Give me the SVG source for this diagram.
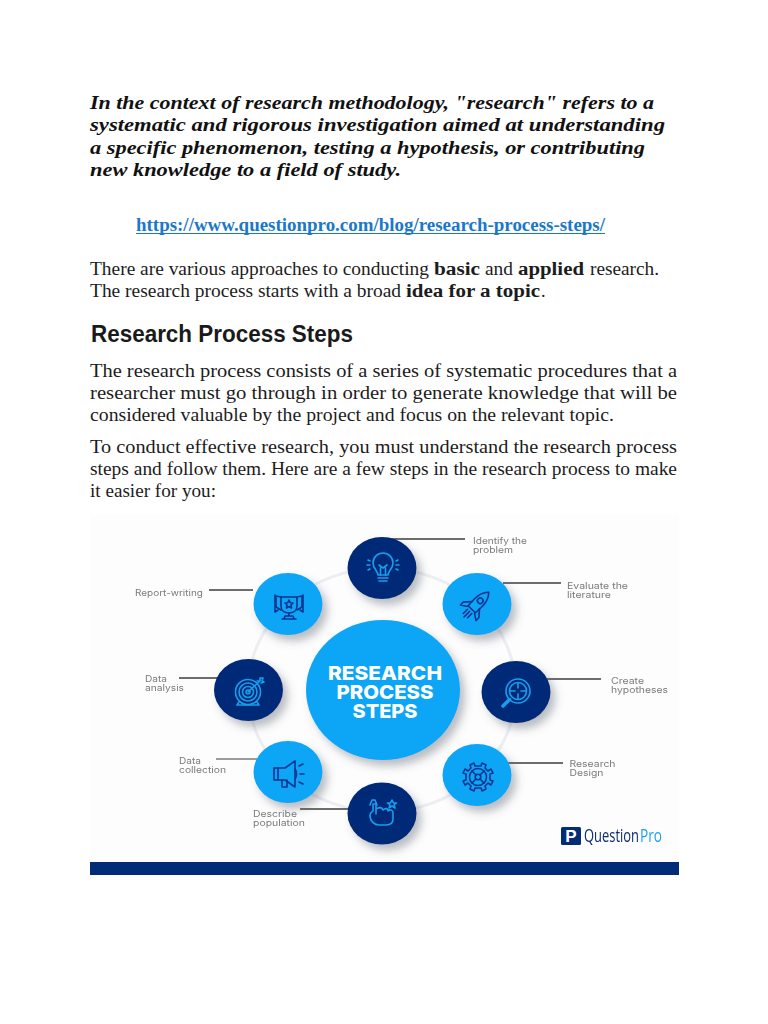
<svg xmlns="http://www.w3.org/2000/svg" width="768" height="1024" viewBox="0 0 768 1024">
<style>
text{font-family:"Liberation Serif","Times New Roman",serif;fill:#1c1c1c;font-size:18px}
.b{font-weight:700}
.i{font-weight:700;font-style:italic;fill:#111;font-size:19px}
.lnk{font-weight:700;fill:#1b78c9;font-size:18px}
.h{font-family:"Liberation Sans",Arial,sans-serif;font-weight:700;font-size:24px;fill:#1a1a1a}
.lab{font-family:Inter,"Liberation Sans",sans-serif;font-size:8.8px;fill:#7b7b7b;filter:url(#soft)}
.ct{font-family:Inter,"Liberation Sans",sans-serif;font-weight:800;font-size:19px;fill:#fff;text-anchor:middle}
.c1{fill:#0ba5f6;filter:url(#sh)}
.c2{fill:#012a78;filter:url(#sh)}
.con{stroke:#3d3d3d;stroke-width:1.6;fill:none}
.ic1{fill:none;stroke:#0a3590;stroke-width:1.6;stroke-linecap:round;stroke-linejoin:round}
.ic2{fill:none;stroke:#169fee;stroke-width:1.6;stroke-linecap:round;stroke-linejoin:round}
.lg{font-family:"Open Sans","Liberation Sans",sans-serif;font-size:19px;filter:url(#soft)}
</style>
<defs>
<filter id="sh" x="-30%" y="-30%" width="170%" height="170%"><feDropShadow dx="5" dy="6" stdDeviation="4.5" flood-color="#555c66" flood-opacity="0.4"/></filter>
<filter id="soft" x="-5%" y="-20%" width="110%" height="140%"><feGaussianBlur stdDeviation="0.3"/></filter>
</defs>
<rect width="768" height="1024" fill="#fff"/>

<g id="intro">
<text class="i" x="90" y="109" textLength="564" lengthAdjust="spacingAndGlyphs">In the context of research methodology, "research" refers to a</text>
<text class="i" x="90" y="131" textLength="575" lengthAdjust="spacingAndGlyphs">systematic and rigorous investigation aimed at understanding</text>
<text class="i" x="90" y="154" textLength="555" lengthAdjust="spacingAndGlyphs">a specific phenomenon, testing a hypothesis, or contributing</text>
<text class="i" x="90" y="176" textLength="311" lengthAdjust="spacingAndGlyphs">new knowledge to a field of study.</text>
<text class="lnk" x="136" y="231" textLength="469" lengthAdjust="spacingAndGlyphs">https://www.questionpro.com/blog/research-process-steps/</text>
<rect x="136" y="233" width="469" height="1" fill="#1b78c9"/>
<text x="90" y="275" textLength="339" lengthAdjust="spacingAndGlyphs">There are various approaches to conducting</text>
<text class="b" x="434" y="275" textLength="46" lengthAdjust="spacingAndGlyphs">basic</text>
<text x="485" y="275" textLength="28" lengthAdjust="spacingAndGlyphs">and</text>
<text class="b" x="518" y="275" textLength="66" lengthAdjust="spacingAndGlyphs">applied</text>
<text x="590" y="275" textLength="69" lengthAdjust="spacingAndGlyphs">research.</text>
<text x="90" y="297" textLength="311" lengthAdjust="spacingAndGlyphs">The research process starts with a broad</text>
<text class="b" x="406" y="297" textLength="134" lengthAdjust="spacingAndGlyphs">idea for a topic</text>
<text x="541" y="297">.</text>
<text class="h" x="91" y="342" textLength="262" lengthAdjust="spacingAndGlyphs">Research Process Steps</text>
<text x="90" y="377" textLength="587" lengthAdjust="spacingAndGlyphs">The research process consists of a series of systematic procedures that a</text>
<text x="90" y="399" textLength="587" lengthAdjust="spacingAndGlyphs">researcher must go through in order to generate knowledge that will be</text>
<text x="90" y="421" textLength="524" lengthAdjust="spacingAndGlyphs">considered valuable by the project and focus on the relevant topic.</text>
<text x="90" y="453" textLength="587" lengthAdjust="spacingAndGlyphs">To conduct effective research, you must understand the research process</text>
<text x="90" y="475" textLength="587" lengthAdjust="spacingAndGlyphs">steps and follow them. Here are a few steps in the research process to make</text>
<text x="90" y="497" textLength="126" lengthAdjust="spacingAndGlyphs">it easier for you:</text>
</g>

<rect id="panel" x="90" y="515" width="589" height="347" fill="#fdfdfe"/>
<ellipse id="ring" cx="382" cy="690" rx="134" ry="122" fill="none" stroke="#eceef2" stroke-width="3"/>
<rect id="band" x="90" y="862" width="589" height="13" fill="#032c78"/>

<g id="connectors" class="con">
<path d="M382 539H465"/>
<path d="M503 583H561"/>
<path d="M547 679H601"/>
<path d="M508 763H563"/>
<path d="M300 809H350"/>
<path d="M216 759H257" stroke-width="1"/>
<path d="M179 678H218"/>
<path d="M209 590H253"/>
</g>

<g id="center">
<ellipse class="c1" cx="383" cy="690" rx="77" ry="70"/>
<text class="ct" x="385" y="680" textLength="114" lengthAdjust="spacingAndGlyphs">RESEARCH</text>
<text class="ct" x="385" y="699" textLength="97" lengthAdjust="spacingAndGlyphs">PROCESS</text>
<text class="ct" x="385" y="718" textLength="65" lengthAdjust="spacingAndGlyphs">STEPS</text>
</g>

<g id="identify">
<ellipse class="c2" cx="382" cy="568" rx="34.5" ry="31"/>
<g class="ic2" transform="translate(383 566)">
<path d="M-5 9C-5 5-10 3-10-3A10 10 0 0 1 10-3C10 3 5 5 5 9Z"/>
<path d="M-5 12H5M-4 15H4M-2.500 9V2M2.500 9V2M-4-1L0 2L4-1"/>
<path d="M-15-6L-13-5M-16-1H-13M-15 4L-13 3M15-6L13-5M16-1H13M15 4L13 3"/>
</g>
<text class="lab" x="473" y="544" textLength="54" lengthAdjust="spacingAndGlyphs">Identify the</text>
<text class="lab" x="473" y="552.500" textLength="40" lengthAdjust="spacingAndGlyphs">problem</text>
</g>

<g id="evaluate">
<ellipse class="c1" cx="477" cy="604" rx="34.5" ry="31"/>
<g class="ic1" transform="translate(476 605) rotate(45)">
<path d="M0-18C6-12 6-4 5 6H-5C-6-4-6-12 0-18Z"/>
<circle cx="0" cy="-6" r="2.800"/>
<path d="M-5 0L-11 7V11L-5 7M5 0L11 7V11L5 7M-3 9V15M3 9V15M0 9V17"/>
</g>
<text class="lab" x="567" y="589" textLength="61" lengthAdjust="spacingAndGlyphs">Evaluate the</text>
<text class="lab" x="567" y="598" textLength="44" lengthAdjust="spacingAndGlyphs">literature</text>
</g>

<g id="hypotheses">
<ellipse class="c2" cx="516" cy="692" rx="34.5" ry="31"/>
<g class="ic2" transform="translate(518 691)">
<circle r="12"/><circle r="8.500"/>
<path d="M0-8V-3M0 8V3M-8 0H-3M8 0H3"/>
<path d="M-8.500 8.500L-15 15" stroke-width="3.500"/>
</g>
<text class="lab" x="611" y="684" textLength="33" lengthAdjust="spacingAndGlyphs">Create</text>
<text class="lab" x="611" y="693" textLength="57" lengthAdjust="spacingAndGlyphs">hypotheses</text>
</g>

<g id="design">
<ellipse class="c1" cx="477" cy="775" rx="34.5" ry="31"/>
<g class="ic1" transform="translate(478 777)">
<path d="M-4-14L-3-11L3-11L4-14L8-12L7-9L10-6L13-8L15-4L12-3V3L15 4L13 8L10 6L7 9L8 12L4 14L3 11H-3L-4 14L-8 12L-7 9L-10 6L-13 8L-15 4L-12 3V-3L-15-4L-13-8L-10-6L-7-9L-8-12Z"/>
<circle r="8.500"/><circle r="2.800"/>
<path d="M-6-6L-2-2M6-6L2-2M-6 6L-2 2M6 6L2 2"/>
</g>
<text class="lab" x="569.500" y="767" textLength="46" lengthAdjust="spacingAndGlyphs">Research</text>
<text class="lab" x="569.500" y="776" textLength="34" lengthAdjust="spacingAndGlyphs">Design</text>
</g>

<g id="population">
<ellipse class="c2" cx="382" cy="813.500" rx="34.500" ry="31"/>
<g class="ic2" transform="translate(382 813)">
<path d="M-9-2V-9H-6V-2M-6 1V-4C-3-6 0-6 1-3M1-3C3-5 6-5 6-2M6-2C8-4 11-3 11 0V6C11 10 8 12 4 12H-3C-7 12-12 9-12 2C-12 0-10-1-9-2"/>
<path d="M-12-8L-10-13L-7-13L-5-8"/>
<path d="M10-13L11.500-10L14.500-10L12-8L13-5L10-7L7-5L8-8L5.500-10L8.500-10Z"/>
</g>
<text class="lab" x="253" y="817" textLength="44" lengthAdjust="spacingAndGlyphs">Describe</text>
<text class="lab" x="253" y="826" textLength="52" lengthAdjust="spacingAndGlyphs">population</text>
</g>

<g id="collection">
<ellipse class="c1" cx="288" cy="772" rx="34.5" ry="31"/>
<g class="ic1" transform="translate(287 774)">
<path d="M-13-6H-2L8-13V13L-2 6H-13Z"/>
<path d="M-9-6V6M-5 6V13H0V6M8-5C10-3 10 3 8 5"/>
<path d="M12-8L16-10M13 0H17M12 8L16 10"/>
</g>
<text class="lab" x="179" y="764" textLength="22" lengthAdjust="spacingAndGlyphs">Data</text>
<text class="lab" x="179" y="773" textLength="47" lengthAdjust="spacingAndGlyphs">collection</text>
</g>

<g id="analysis">
<ellipse class="c2" cx="248.500" cy="690" rx="34.500" ry="31"/>
<g class="ic2" transform="translate(248 692)">
<circle r="12.500"/><circle r="9"/><circle r="5.500"/><circle r="2"/>
<path d="M0 0L12-11M9-11L12-11L12-14L15-14L14-11L16-10L13-9"/>
<path d="M-9 10L-11 13H11L9 10"/>
</g>
<text class="lab" x="145" y="682" textLength="22" lengthAdjust="spacingAndGlyphs">Data</text>
<text class="lab" x="145" y="691" textLength="39" lengthAdjust="spacingAndGlyphs">analysis</text>
</g>

<g id="report">
<ellipse class="c1" cx="288" cy="604" rx="34.5" ry="31"/>
<g class="ic1" transform="translate(289 606)">
<path d="M-8-9H8V0C8 5 4 7 0 7C-4 7-8 5-8 0Z"/>
<path d="M-8-9L-13-10V1L-8 4M8-9L13-10V1L8 4"/>
<path d="M-14-11V6L-11 4M14-11V6L11 4"/>
<path d="M0-6L1.200-3.200L4-3L2-1L2.500 2L0 .5L-2.500 2L-2-1L-4-3L-1.200-3.200Z"/>
<path d="M0 7V10M-4 10H4L5 13H-5ZM-7 13H7"/>
</g>
<text class="lab" x="135" y="596" textLength="68" lengthAdjust="spacingAndGlyphs">Report-writing</text>
</g>

<g id="logo">
<rect x="561" y="827" width="20" height="18" rx="1.500" fill="#032c78"/>
<text x="571" y="842" text-anchor="middle" style="font-family:'Liberation Sans',sans-serif;font-weight:700;font-size:17px;fill:#fff">P</text>
<text class="lg" x="584" y="842" textLength="55" lengthAdjust="spacingAndGlyphs" style="fill:#0a2d70">Question</text>
<text class="lg" x="640" y="842" textLength="22" lengthAdjust="spacingAndGlyphs" style="fill:#1ea3e6">Pro</text>
</g>
</svg>
